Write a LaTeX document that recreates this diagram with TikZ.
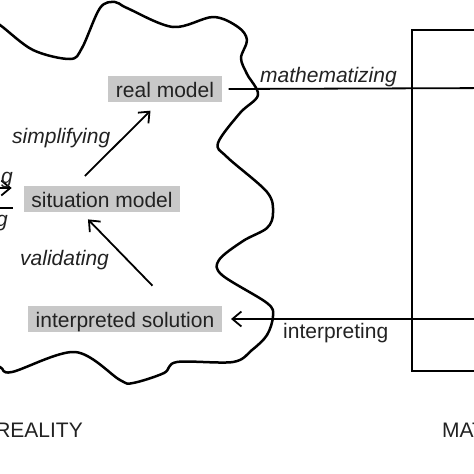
\documentclass[tikz,border=0pt]{standalone}
\usepackage{fontspec}
\setmainfont{Liberation Sans}
\usetikzlibrary{arrows.meta,calc}
\definecolor{boxgray}{HTML}{C8C8C8}
\definecolor{txt}{HTML}{222222}
\begin{document}
\begin{tikzpicture}[x=1pt,y=-1pt,
  every node/.style={text=txt,font=\fontsize{21}{24}\selectfont},
  modelbox/.style={fill=boxgray,inner xsep=7.5pt,inner ysep=0pt,text height=21pt,text depth=5pt},
  lbl/.style={anchor=base west,inner sep=0pt},
  ilbl/.style={lbl,font=\fontsize{21}{24}\selectfont\itshape},
  conn/.style={line width=1.8pt,black},
  arr/.style={conn,-{Straight Barb[length=9pt,width=15pt,line width=1.8pt]}}]
\useasboundingbox (0,0) rectangle (474,474);
\clip (0,0) rectangle (474,474);
% reality blob
\draw[line width=2.5pt,line join=round] plot[smooth,tension=0.55] coordinates {
 (-20,12) (0,25) (33,50) (70,59) (82,48) (100,8) (115,2) (127,8) (173,27) (213,17)
 (238,27) (247,40) (241,58) (247,74) (258,95) (240,113) (218,143) (227,157)
 (267,192) (273,213) (267,228) (243,241) (219,260) (222,275) (267,303) (273,316)
 (267,335) (252,350) (233,362) (177,362) (164,373) (133,383) (120,380) (75,352)
 (12,372) (0,367) (-20,360)};
% mathematics rectangle
\draw[conn] (412,30) rectangle (500,371);
% model nodes
\node[modelbox] (real) at (165,89) {real model};
\node[modelbox] (sit) at (102,199) {situation model};
\node[modelbox] (interp) at (125,319) {interpreted solution};
% free ends
\coordinate (mathend) at (500,88);
\coordinate (interpstart) at (500,319);
\coordinate (leftin) at (-20,188);
\coordinate (leftout) at (-20,208);
\coordinate (leftoutend) at (13,208);
% connectors
\draw[conn] ([xshift=7pt]real.east) -- (mathend);
\draw[arr] (interpstart) -- ([xshift=9pt]interp.east);
\draw[arr,shorten <=14pt,shorten >=12pt] ($(sit.north)+(-27,0)$) -- ($(real.south)+(-6,0)$);
\draw[arr,shorten <=28pt,shorten >=10pt] ($(interp.north)+(47,0)$) -- ($(sit.south)+(-21,0)$);
\draw[arr] (leftin) -- ([xshift=-12pt]sit.west |- leftin);
\draw[conn] (leftout) -- (leftoutend);
% labels
\node[ilbl] (lmath) at (260,82) {mathematizing};
\node[lbl] (linterp) at (283,338) {interpreting};
\node[ilbl] (lsimp) at (12,143) {simplifying};
\node[ilbl] (lvalid) at (20,265) {validating};
\node[ilbl,anchor=base east] (lcons) at (13,183) {constructing};
\node[ilbl,anchor=base east] (lund) at (8,226) {understanding};
\node[lbl,anchor=base east] (lreal) at (83,437) {REALITY};
\node[lbl] (lmaths) at (442,437) {MATHEMATICS};
\end{tikzpicture}
\end{document}
